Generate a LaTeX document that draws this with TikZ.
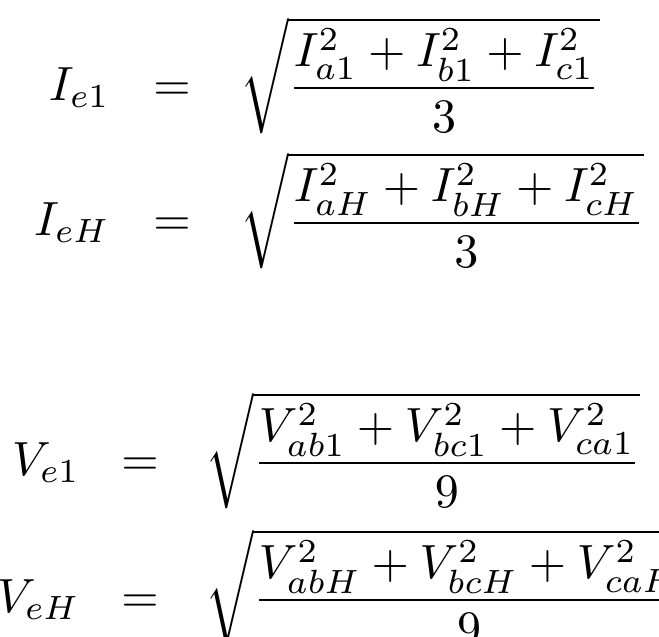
\documentclass[tikz,border=0pt]{standalone}
\newcommand{\eqbig}[1]{\scalebox{4.8}{$\displaystyle #1$}}
\begin{document}
\begin{tikzpicture}[x=1pt,y=-1pt,every node/.style={inner sep=0pt}]
\useasboundingbox (0,0) rectangle (659,637);
\node[anchor=base east] (l1) at (110,100) {\eqbig{I_{e1}}};
\node[anchor=base] (q1) at (172,100) {\eqbig{=}};
\node[anchor=base west] (r1) at (240,100) {\eqbig{\sqrt{\frac{I_{a1}^2+I_{b1}^2+I_{c1}^2}{3}}}};
\node[anchor=base east] (l2) at (110,235) {\eqbig{I_{eH}}};
\node[anchor=base] (q2) at (172,235) {\eqbig{=}};
\node[anchor=base west] (r2) at (240,235) {\eqbig{\sqrt{\frac{I_{aH}^2+I_{bH}^2+I_{cH}^2}{3}}}};
\node[anchor=base east] (l3) at (80,475) {\eqbig{V_{e1}}};
\node[anchor=base] (q3) at (140,475) {\eqbig{=}};
\node[anchor=base west] (r3) at (205,475) {\eqbig{\sqrt{\frac{V_{ab1}^2+V_{bc1}^2+V_{ca1}^2}{9}}}};
\node[anchor=base east] (l4) at (80,612) {\eqbig{V_{eH}}};
\node[anchor=base] (q4) at (140,612) {\eqbig{=}};
\node[anchor=base west] (r4) at (205,612) {\eqbig{\sqrt{\frac{V_{abH}^2+V_{bcH}^2+V_{caH}^2}{9}}}};
\end{tikzpicture}
\end{document}
